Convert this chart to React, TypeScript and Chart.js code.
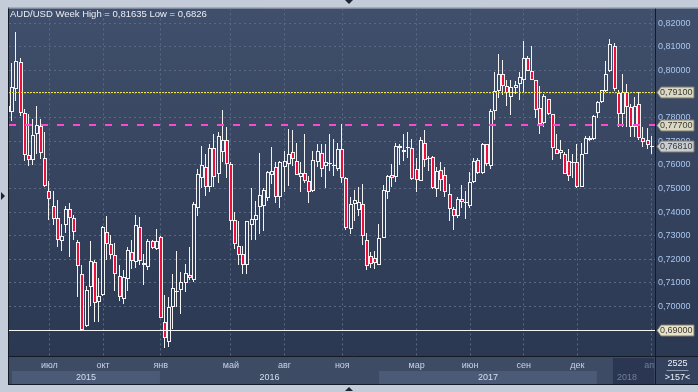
import React, { useEffect, useRef } from 'react';
import { Chart, registerables } from 'chart.js';

Chart.register(...registerables);

const TITLE = 'AUD/USD Week High = 0,81635 Low = 0,6826';

// weekly AUD/USD candles (Apr 2015 .. Mar 2018)
const opens = [
  0.7823, 0.7823, 0.7920, 0.8035, 0.7820, 0.7640, 0.7621, 0.7730, 0.7765, 0.7628,
  0.7489, 0.7426, 0.7374, 0.7277, 0.7344, 0.7413, 0.7374, 0.7275, 0.7137, 0.6917,
  0.7083, 0.7188, 0.7019, 0.7048, 0.7317, 0.7265, 0.7219, 0.7130, 0.7032, 0.7116,
  0.7232, 0.7188, 0.7336, 0.7184, 0.7166, 0.7278, 0.7244, 0.7293, 0.6934, 0.6851,
  0.6998, 0.7063, 0.7072, 0.7100, 0.7135, 0.7111, 0.7417, 0.7544, 0.7589, 0.7505,
  0.7671, 0.7561, 0.7656, 0.7704, 0.7603, 0.7367, 0.7257, 0.7222, 0.7176, 0.7344,
  0.7368, 0.7420, 0.7427, 0.7458, 0.7558, 0.7590, 0.7462, 0.7589, 0.7603, 0.7655,
  0.7617, 0.7547, 0.7566, 0.7533, 0.7488, 0.7610, 0.7649, 0.7593, 0.7603, 0.7593,
  0.7583, 0.7666, 0.7544, 0.7329, 0.7434, 0.7409, 0.7434, 0.7280, 0.7216, 0.7204,
  0.7178, 0.7292, 0.7484, 0.7558, 0.7550, 0.7671, 0.7656, 0.7670, 0.7671, 0.7582,
  0.7533, 0.7694, 0.7623, 0.7634, 0.7498, 0.7578, 0.7558, 0.7477, 0.7412, 0.7385,
  0.7454, 0.7437, 0.7427, 0.7526, 0.7620, 0.7564, 0.7687, 0.7596, 0.7826, 0.7912,
  0.7986, 0.7932, 0.7887, 0.7925, 0.7941, 0.7960, 0.8053, 0.7998, 0.7957, 0.7842,
  0.7776, 0.7877, 0.7813, 0.7666, 0.7650, 0.7647, 0.7616, 0.7607, 0.7612, 0.7507,
  0.7647, 0.7706, 0.7711, 0.7820, 0.7866, 0.7911, 0.7996, 0.8104, 0.7904, 0.7814,
  0.7909, 0.7843, 0.7761, 0.7857, 0.7712, 0.7705, 0.7678,
];
const highs = [
  0.7860, 0.8030, 0.8163, 0.8052, 0.7837, 0.7817, 0.7792, 0.7847, 0.7796, 0.7737,
  0.7531, 0.7490, 0.7451, 0.7348, 0.7426, 0.7440, 0.7388, 0.7282, 0.7177, 0.7086,
  0.7279, 0.7198, 0.7121, 0.7341, 0.7383, 0.7303, 0.7268, 0.7177, 0.7156, 0.7254,
  0.7282, 0.7388, 0.7381, 0.7222, 0.7285, 0.7282, 0.7327, 0.7299, 0.7050, 0.7041,
  0.7136, 0.7237, 0.7146, 0.7181, 0.7254, 0.7441, 0.7582, 0.7680, 0.7645, 0.7687,
  0.7730, 0.7737, 0.7832, 0.7761, 0.7610, 0.7399, 0.7364, 0.7256, 0.7363, 0.7502,
  0.7446, 0.7648, 0.7502, 0.7572, 0.7676, 0.7610, 0.7617, 0.7659, 0.7751, 0.7746,
  0.7694, 0.7610, 0.7730, 0.7554, 0.7659, 0.7687, 0.7690, 0.7690, 0.7730, 0.7709,
  0.7694, 0.7772, 0.7547, 0.7462, 0.7493, 0.7507, 0.7519, 0.7311, 0.7230, 0.7237,
  0.7350, 0.7516, 0.7558, 0.7603, 0.7694, 0.7687, 0.7730, 0.7737, 0.7709, 0.7628,
  0.7716, 0.7746, 0.7638, 0.7638, 0.7592, 0.7610, 0.7589, 0.7519, 0.7423, 0.7462,
  0.7516, 0.7491, 0.7568, 0.7631, 0.7628, 0.7694, 0.7690, 0.7838, 0.7993, 0.8067,
  0.8042, 0.7960, 0.7957, 0.7955, 0.7993, 0.8125, 0.8059, 0.8104, 0.7960, 0.7933,
  0.7900, 0.7880, 0.7816, 0.7729, 0.7704, 0.7654, 0.7668, 0.7645, 0.7689, 0.7692,
  0.7720, 0.7720, 0.7809, 0.7872, 0.7917, 0.8038, 0.8132, 0.8114, 0.7918, 0.7986,
  0.7944, 0.7859, 0.7888, 0.7909, 0.7761, 0.7754, 0.7722,
];
const lows = [
  0.7800, 0.7785, 0.7872, 0.7808, 0.7616, 0.7595, 0.7598, 0.7645, 0.7625, 0.7505,
  0.7367, 0.7345, 0.7254, 0.7234, 0.7313, 0.7212, 0.7282, 0.7041, 0.6900, 0.6914,
  0.7004, 0.6934, 0.6935, 0.7046, 0.7198, 0.7200, 0.7064, 0.7022, 0.7012, 0.7067,
  0.7161, 0.7163, 0.7177, 0.7093, 0.7156, 0.7244, 0.7240, 0.6951, 0.6826, 0.6830,
  0.6905, 0.6998, 0.6970, 0.7062, 0.7111, 0.7104, 0.7385, 0.7502, 0.7469, 0.7484,
  0.7507, 0.7522, 0.7610, 0.7543, 0.7325, 0.7245, 0.7174, 0.7139, 0.7139, 0.7280,
  0.7282, 0.7308, 0.7319, 0.7448, 0.7519, 0.7437, 0.7417, 0.7484, 0.7512, 0.7593,
  0.7558, 0.7484, 0.7522, 0.7437, 0.7484, 0.7589, 0.7547, 0.7502, 0.7575, 0.7554,
  0.7575, 0.7522, 0.7325, 0.7308, 0.7364, 0.7385, 0.7259, 0.7153, 0.7164, 0.7159,
  0.7174, 0.7291, 0.7454, 0.7505, 0.7526, 0.7600, 0.7617, 0.7631, 0.7536, 0.7484,
  0.7530, 0.7589, 0.7575, 0.7498, 0.7465, 0.7488, 0.7462, 0.7361, 0.7325, 0.7375,
  0.7417, 0.7371, 0.7417, 0.7522, 0.7561, 0.7563, 0.7596, 0.7582, 0.7788, 0.7884,
  0.7895, 0.7849, 0.7809, 0.7901, 0.7873, 0.7907, 0.7995, 0.7957, 0.7800, 0.7732,
  0.7760, 0.7809, 0.7622, 0.7645, 0.7626, 0.7560, 0.7532, 0.7543, 0.7500, 0.7505,
  0.7645, 0.7701, 0.7706, 0.7799, 0.7861, 0.7907, 0.7992, 0.7914, 0.7761, 0.7761,
  0.7761, 0.7719, 0.7719, 0.7705, 0.7677, 0.7665, 0.7644,
];
const closes = [
  0.7847, 0.7929, 0.8038, 0.7820, 0.7643, 0.7621, 0.7727, 0.7770, 0.7650, 0.7511,
  0.7454, 0.7372, 0.7281, 0.7299, 0.7413, 0.7374, 0.7315, 0.7170, 0.6903, 0.7071,
  0.7194, 0.7015, 0.7046, 0.7338, 0.7263, 0.7218, 0.7137, 0.7041, 0.7125, 0.7240,
  0.7191, 0.7345, 0.7191, 0.7174, 0.7278, 0.7247, 0.7279, 0.6952, 0.6868, 0.6998,
  0.7080, 0.7068, 0.7104, 0.7142, 0.7122, 0.7434, 0.7561, 0.7599, 0.7505, 0.7673,
  0.7547, 0.7723, 0.7704, 0.7603, 0.7361, 0.7264, 0.7218, 0.7176, 0.7363, 0.7371,
  0.7389, 0.7472, 0.7493, 0.7568, 0.7575, 0.7462, 0.7613, 0.7616, 0.7645, 0.7623,
  0.7559, 0.7566, 0.7533, 0.7485, 0.7620, 0.7659, 0.7582, 0.7613, 0.7607, 0.7599,
  0.7669, 0.7543, 0.7332, 0.7434, 0.7451, 0.7441, 0.7298, 0.7171, 0.7181, 0.7184,
  0.7292, 0.7493, 0.7554, 0.7544, 0.7680, 0.7678, 0.7664, 0.7675, 0.7540, 0.7536,
  0.7704, 0.7620, 0.7628, 0.7500, 0.7575, 0.7536, 0.7484, 0.7413, 0.7385, 0.7455,
  0.7444, 0.7442, 0.7529, 0.7617, 0.7565, 0.7687, 0.7603, 0.7828, 0.7912, 0.7986,
  0.7935, 0.7905, 0.7929, 0.7936, 0.7970, 0.8053, 0.7998, 0.7959, 0.7833, 0.7772,
  0.7890, 0.7814, 0.7673, 0.7647, 0.7661, 0.7563, 0.7553, 0.7611, 0.7507, 0.7645,
  0.7715, 0.7715, 0.7805, 0.7866, 0.7915, 0.7986, 0.8111, 0.7920, 0.7814, 0.7909,
  0.7843, 0.7761, 0.7848, 0.7712, 0.7698, 0.7684, 0.7681,
];

// x axis: week index of the first candle of each labelled month
const monthTickIndex = [10, 23, 37, 54, 67, 81, 99, 112, 125, 138, 156];
const monthLabels = ['июл', 'окт', 'янв', 'май', 'авг', 'ноя', 'мар', 'июн', 'сен', 'дек', 'апр'];

// year row under the months (spans in week-index units)
const yearLabels = ['2015', '2016', '2017', '2018'];
const yearFrom = [0.9, 36.8, 89.9, 146.6];
const yearTo = [36.8, 89.9, 142.7, 156.6];
const yearStyle = ['band', 'plain', 'band', 'current'];

// y axis
const yTickValues = [0.69, 0.7, 0.71, 0.72, 0.73, 0.74, 0.75, 0.76, 0.77, 0.78, 0.79, 0.8, 0.81, 0.82];
const Y_MIN = 0.6791;
const Y_MAX = 0.8262;

// horizontal levels & price tags
const levelValues = [0.791, 0.777, 0.7681, 0.69];
const levelColors = ['#e8e44a', '#ff48d0', '', '#f4f4f4'];
const levelWidths = [1, 2, 0, 1];
const levelDash = [[2, 1], [7, 9], [], []];
const tagFills = ['#dcd9c2', '#dcd9c2', '#c9cdd1', '#e9e4c8'];

const counterTop = '2525';
const counterBottom = '>157<';

const FONT = '"Liberation Sans", Arial, sans-serif';
const RED = '#ea0f3c';
const WHITE = '#f3f3f3';

const fmt = (v: number) => v.toFixed(5).replace('.', ',');

function panelGradient(ctx: CanvasRenderingContext2D, top: number, bottom: number) {
  const g = ctx.createLinearGradient(0, top, 0, bottom);
  g.addColorStop(0, '#404f6b');
  g.addColorStop(1, '#2b3852');
  return g;
}

// put bodies (even width) on whole pixels and wicks (1px) on half pixels
const snapPlugin = {
  id: 'snap',
  afterDatasetsUpdate(chart: any) {
    chart.data.datasets.forEach((_: any, di: number) => {
      const meta = chart.getDatasetMeta(di);
      const isWick = di === 1;
      meta.data.forEach((el: any) => {
        el.x = isWick ? Math.round(el.x) - 0.5 : Math.round(el.x);
        const y = Math.round(el.y);
        let b = Math.round(el.base);
        if (Math.abs(b - y) < 1) b = y + 1;
        el.y = y;
        el.base = b;
      });
    });
  },
};

const backdropPlugin = {
  id: 'backdrop',
  beforeDraw(chart: any) {
    const { ctx, chartArea: a, width } = chart;
    const xs = chart.scales.x;
    const bottomEdge = 384;
    ctx.save();
    ctx.fillStyle = '#c3ccd8';
    ctx.fillRect(0, 0, chart.width, chart.height);
    ctx.fillStyle = panelGradient(ctx, a.top, a.bottom);
    ctx.fillRect(a.left, a.top, width - a.left, a.bottom - a.top);
    // bottom time panel
    ctx.fillStyle = '#3d4b65';
    ctx.fillRect(a.left, a.bottom, a.right - a.left, bottomEdge - a.bottom);
    ctx.fillStyle = '#34425d';
    ctx.fillRect(a.right, a.bottom, width - a.right, bottomEdge - a.bottom);
    yearLabels.forEach((lab, i) => {
      const p0 = xs.getPixelForValue(yearFrom[i]);
      const p1 = xs.getPixelForValue(yearTo[i]);
      if (yearStyle[i] === 'band') {
        ctx.fillStyle = '#4b5a76';
        ctx.fillRect(p0, 371, p1 - p0, bottomEdge - 371);
      } else if (yearStyle[i] === 'current') {
        ctx.fillStyle = '#2b3752';
        ctx.fillRect(p0, a.bottom + 2, p1 - p0, bottomEdge - a.bottom - 2);
      }
    });
    ctx.restore();
  },
};

const overlayPlugin = {
  id: 'overlay',
  afterDraw(chart: any) {
    const { ctx, chartArea: a, width } = chart;
    const ys = chart.scales.y;
    const xs = chart.scales.x;
    const bottomEdge = 384;
    ctx.save();

    // level lines
    ctx.save();
    ctx.beginPath();
    ctx.rect(a.left, a.top, a.right - a.left, a.bottom - a.top);
    ctx.clip();
    levelValues.forEach((v, i) => {
      if (!levelColors[i]) return;
      const w = levelWidths[i];
      const y = Math.round(ys.getPixelForValue(v)) + (w % 2 ? 0.5 : 0);
      ctx.strokeStyle = levelColors[i];
      ctx.lineWidth = w;
      ctx.setLineDash(levelDash[i]);
      ctx.beginPath();
      ctx.moveTo(a.left, y);
      ctx.lineTo(a.right, y);
      ctx.stroke();
    });
    ctx.restore();
    ctx.setLineDash([]);
    ctx.lineWidth = 1;

    // year labels
    ctx.font = '9px ' + FONT;
    ctx.textBaseline = 'middle';
    yearLabels.forEach((lab, i) => {
      const p0 = xs.getPixelForValue(yearFrom[i]);
      const p1 = xs.getPixelForValue(yearTo[i]);
      if (yearStyle[i] === 'current') {
        ctx.fillStyle = '#6f7f9b';
        ctx.textAlign = 'left';
        ctx.fillText(lab, p0 + 4, 377.5);
      } else {
        ctx.fillStyle = '#d6dff0';
        ctx.textAlign = 'center';
        ctx.fillText(lab, (p0 + p1) / 2, 377.5);
      }
    });

    // bottom-right counter box
    ctx.fillStyle = '#34425d';
    ctx.fillRect(a.right, a.bottom, width - a.right, bottomEdge - a.bottom);
    ctx.fillStyle = '#eef2f8';
    ctx.textAlign = 'center';
    const cx = (a.right + width) / 2 + 1;
    ctx.fillText(counterTop, cx, 364);
    ctx.fillText(counterBottom, cx, 377.5);
    ctx.strokeStyle = '#8c9ab2';
    ctx.beginPath();
    ctx.moveTo(cx - 11, 370.5);
    ctx.lineTo(cx + 11, 370.5);
    ctx.stroke();

    // frame lines
    ctx.strokeStyle = '#141a26';
    ctx.lineWidth = 1;
    ctx.beginPath();
    ctx.moveTo(a.left, a.bottom + 0.5);
    ctx.lineTo(width, a.bottom + 0.5);
    ctx.moveTo(a.right + 0.5, a.top);
    ctx.lineTo(a.right + 0.5, bottomEdge);
    ctx.moveTo(a.left - 0.5, a.top - 1);
    ctx.lineTo(a.left - 0.5, bottomEdge + 1);
    ctx.moveTo(a.left - 1, bottomEdge + 0.5);
    ctx.lineTo(width, bottomEdge + 0.5);
    ctx.stroke();
    ctx.strokeStyle = '#8e98a8';
    ctx.beginPath();
    ctx.moveTo(a.left - 1, a.top - 0.5);
    ctx.lineTo(width, a.top - 0.5);
    ctx.stroke();

    // price tags
    levelValues.forEach((v, i) => {
      const y = Math.round(ys.getPixelForValue(v)) + 0.5;
      const tip = a.right + 2;
      const l = tip + 4;
      const r = width - 4;
      ctx.beginPath();
      ctx.moveTo(tip, y);
      ctx.lineTo(l, y - 5.5);
      ctx.lineTo(r, y - 5.5);
      ctx.lineTo(r, y + 5.5);
      ctx.lineTo(l, y + 5.5);
      ctx.closePath();
      ctx.fillStyle = tagFills[i];
      ctx.fill();
      ctx.strokeStyle = '#7d7b6c';
      ctx.stroke();
      ctx.fillStyle = '#3b3b3b';
      ctx.textAlign = 'left';
      ctx.font = '9px ' + FONT;
      ctx.fillText(fmt(v), l - 1, y + 0.5);
    });

    // title
    ctx.fillStyle = '#eaeef6';
    ctx.textAlign = 'left';
    ctx.font = '9.5px ' + FONT;
    ctx.fillText(TITLE, a.left + 1, 14.5);

    // little scroll arrows in the frame
    ctx.fillStyle = '#1d2432';
    const mid = Math.round(chart.width / 2);
    ctx.beginPath();
    ctx.moveTo(mid - 4, 0);
    ctx.lineTo(mid + 4, 0);
    ctx.lineTo(mid, 4);
    ctx.closePath();
    ctx.fill();
    ctx.beginPath();
    ctx.moveTo(mid - 4, 391);
    ctx.lineTo(mid + 4, 391);
    ctx.lineTo(mid, 387);
    ctx.closePath();
    ctx.fill();
    ctx.beginPath();
    ctx.moveTo(1, 192);
    ctx.lineTo(1, 200);
    ctx.lineTo(5, 196);
    ctx.closePath();
    ctx.fill();

    ctx.restore();
  },
};

export default function App() {
  const ref = useRef<HTMLCanvasElement>(null);

  useEffect(() => {
    if (!ref.current) return;
    const bodyData = opens.map((o, i) => ({ x: i, y: [o, closes[i]] }));
    const wickData = lows.map((l, i) => ({ x: i, y: [l, highs[i]] }));

    const chart = new Chart(ref.current, {
      type: 'bar',
      data: {
        datasets: [
          {
            label: 'body',
            data: bodyData as any,
            order: 0,
            grouped: false,
            barThickness: 4,
            borderWidth: 1,
            borderColor: WHITE,
            borderSkipped: false,
            inflateAmount: 0,
            backgroundColor: (c: any) => {
              const i = c.dataIndex;
              if (closes[i] < opens[i]) return RED;
              const area = c.chart.chartArea;
              if (!area) return '#36445f';
              return panelGradient(c.chart.ctx, area.top, area.bottom);
            },
          } as any,
          {
            label: 'wick',
            data: wickData as any,
            order: 1,
            grouped: false,
            barThickness: 1,
            borderWidth: 0,
            inflateAmount: 0,
            backgroundColor: WHITE,
          } as any,
        ],
      },
      options: {
        animation: false,
        responsive: false,
        devicePixelRatio: 1,
        events: [],
        layout: { padding: { left: 9, top: 8, right: 0, bottom: 0 } },
        plugins: {
          legend: { display: false },
          tooltip: { enabled: false },
          title: { display: false },
        },
        scales: {
          x: {
            type: 'linear',
            position: 'bottom',
            offset: false,
            min: 0.2,
            max: 156.8,
            afterBuildTicks: (s: any) => {
              s.ticks = monthTickIndex.map((v) => ({ value: v }));
            },
            afterFit: (s: any) => {
              s.height = 36;
              s.paddingLeft = 0;
              s.paddingRight = 0;
            },
            grid: { color: '#5a6985', lineWidth: 1, drawTicks: false, offset: false },
            border: { display: false, dash: [2, 3] },
            ticks: {
              autoSkip: false,
              maxRotation: 0,
              padding: 4,
              font: { family: FONT, size: 9 },
              color: (c: any) => (c.index === monthLabels.length - 1 ? '#6f7f9b' : '#c6d3ea'),
              callback: (_v: any, i: number) => monthLabels[i],
            },
          },
          y: {
            type: 'linear',
            position: 'right',
            min: Y_MIN,
            max: Y_MAX,
            afterBuildTicks: (s: any) => {
              s.ticks = yTickValues.map((v) => ({ value: v }));
            },
            afterFit: (s: any) => {
              s.width = 43;
            },
            grid: { color: '#5a6985', lineWidth: 1, drawTicks: false },
            border: { display: false, dash: [2, 3] },
            ticks: {
              padding: 3,
              font: { family: FONT, size: 9 },
              color: '#a9c6ee',
              callback: (v: any) => fmt(Number(v)),
            },
          },
        },
      } as any,
      plugins: [snapPlugin, backdropPlugin, overlayPlugin] as any,
    });
    return () => chart.destroy();
  }, []);

  return (
    <div style={{ position: 'fixed', left: 0, top: 0, width: 698, height: 392 }}>
      <canvas ref={ref} width={698} height={392} style={{ display: 'block' }} />
    </div>
  );
}
